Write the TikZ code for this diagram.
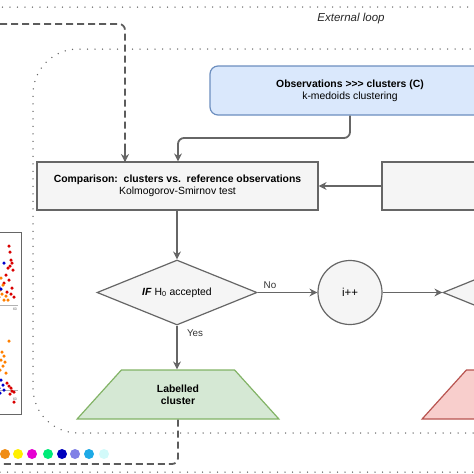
\documentclass[tikz,border=0pt]{standalone}
\usepackage{fontspec}
\setmainfont{Liberation Sans}
\usetikzlibrary{shapes.geometric,arrows.meta}
\definecolor{lg}{HTML}{F5F5F5}
\definecolor{dg}{HTML}{666666}
\definecolor{bfill}{HTML}{DAE8FC}
\definecolor{bline}{HTML}{6C8EBF}
\definecolor{gfill}{HTML}{D5E8D4}
\definecolor{gline}{HTML}{82B366}
\definecolor{rfill}{HTML}{F8CECC}
\definecolor{rline}{HTML}{B85450}
\tikzset{
  procbox/.style={draw=dg, fill=lg, line width=1.2pt, inner sep=0pt, align=center, font=\fontsize{10.4}{12}\selectfont},
  flow/.style={draw=dg, line width=1.8pt, -{Stealth[length=8pt,width=8pt]}, rounded corners=6pt},
  dashflow/.style={draw=dg!90!black, line width=1.8pt, dash pattern=on 7pt off 4pt, rounded corners=6pt},
  loopline/.style={draw=dg, line width=1.5pt, dash pattern=on 0pt off 7.5pt, line cap=round},
  lbl/.style={font=\fontsize{9.8}{11}\selectfont, text=black!80},
  cdot/.style={circle, inner sep=0pt, minimum size=10pt},
  sdot/.style={circle, inner sep=0pt, minimum size=3.5pt},
  trap/.style={procbox, trapezium, trapezium left angle=50, trapezium right angle=50,
    trapezium stretches=true, minimum width=202pt, minimum height=49pt},
}
\begin{document}
\begin{tikzpicture}[x=1pt,y=-1pt]
\useasboundingbox (0,0) rectangle (474,474);
\clip (0,0) rectangle (474,474);
% loops
\draw[loopline] (-60,7) rectangle (620,472);
\draw[loopline, rounded corners=45pt] (620,49) -- (33,49) -- (33,433) -- (620,433);
\node[font=\itshape\fontsize{11.5}{13}\selectfont, text=black!85] (ext) at (351,19) {External loop};
% scatter panel
\draw[draw=dg, line width=1pt, fill=white] (-20,232) rectangle (21,414);
\draw[black!30, line width=0.5pt] (-20,305) -- (18,305);
\draw[black!30, line width=0.5pt] (-20,390) -- (18,390);
\node[font=\fontsize{3.5}{4}\selectfont, text=black!60] (t1) at (15,309) {60};
\node[font=\fontsize{3.5}{4}\selectfont, text=black!60] (t2) at (15,399) {60};
\foreach \x/\y in {9/246,10/252,11/260,12/263,10/266,8/268,13/270,6/275,9/280,4/283,12/288,14/297,7/292,11/294}
  \node[sdot, fill=red!85!black] at (\x,\y) {};
\foreach \x/\y in {1/278,3/285,0/290,2/294,6/296,4/300,-1/297,8/300}
  \node[sdot, fill=orange] at (\x,\y) {};
\foreach \x/\y in {4/263,1/289,-1/287}
  \node[sdot, fill=blue!80!black] at (\x,\y) {};
\foreach \x/\y in {9/341,2/352,4/356,1/360,5/362,3/366,0/370,6/373}
  \node[sdot, fill=orange] at (\x,\y) {};
\foreach \x/\y in {1/380,3/385,-1/388,4/390,0/393}
  \node[sdot, fill=blue!80!black] at (\x,\y) {};
\foreach \x/\y in {7/383,9/386,11/388,12/391,14/392,10/394,14/402}
  \node[sdot, fill=red!85!black] at (\x,\y) {};
% color dots
\node[cdot, fill={rgb,255:red,240;green,140;blue,20}] (c1) at (5,454) {};
\node[cdot, fill={rgb,255:red,255;green,240;blue,0}] (c2) at (18,454) {};
\node[cdot, fill={rgb,255:red,230;green,0;blue,210}] (c3) at (32,454) {};
\node[cdot, fill={rgb,255:red,0;green,235;blue,120}] (c4) at (48,454) {};
\node[cdot, fill={rgb,255:red,0;green,0;blue,190}] (c5) at (62,454) {};
\node[cdot, fill={rgb,255:red,128;green,128;blue,230}] (c6) at (75,454) {};
\node[cdot, fill={rgb,255:red,30;green,170;blue,230}] (c7) at (89,454) {};
\node[cdot, fill={rgb,255:red,210;green,250;blue,250}] (c8) at (104,454) {};
% boxes
\node[procbox, draw=bline, fill=bfill, rounded corners=8pt, minimum width=280pt, minimum height=49pt] (obs) at (350,90.5)
  {\textbf{Observations {>}{>}{>} clusters (C)}\\k-medoids clustering};
\node[procbox, minimum width=281pt, minimum height=48pt] (cmp) at (177.5,186)
  {\textbf{Comparison:\ \ clusters vs.\ \ reference observations}\\Kolmogorov-Smirnov test};
\node[procbox, minimum width=240pt, minimum height=48pt] (rbox) at (502,186) {};
\node[procbox, diamond, aspect=2.46, minimum width=160pt, minimum height=65pt] (d1) at (177,292.5)
  {\textbf{\textit{IF}} H\textsubscript{0} accepted};
\node[procbox, circle, minimum size=64pt, font=\fontsize{11.5}{13}\selectfont] (inc) at (350,292.5) {i++};
\node[procbox, diamond, aspect=2.46, minimum width=160pt, minimum height=65pt] (d2) at (523,292.5) {\strut};
\node[trap, draw=gline, fill=gfill] (lab) at (178,394.5)
  {\textbf{Labelled}\\\textbf{cluster}};
\node[trap, draw=rline, fill=rfill] (fail) at (523,394.5)
  {\phantom{\textbf{Labelled}}\\\phantom{\textbf{cluster}}};
% connectors
\coordinate (bend1) at (178,138);
\draw[flow] (obs.south) |- (bend1) -- (bend1 |- cmp.north);
\draw[flow] (rbox.west) -- (cmp.east);
\draw[flow] (cmp.south -| d1.north) -- (d1.north);
\draw[flow] (d1.east) -- (inc.west);
\draw[flow] (inc.east) -- (d2.west);
\draw[flow] (d1.south) -- (lab.north -| d1.south);
\node[lbl] (no) at (270,285) {No};
\node[lbl] (yes) at (195,333) {Yes};
\coordinate (dstart) at (0,24);
\coordinate (dtarget) at (125,162);
\draw[dashflow] (dstart) -| (dtarget);
\draw[draw=dg, line width=1.8pt, -{Stealth[length=8pt,width=8pt]}] (125,150) -- (dtarget);
\coordinate (dend) at (0,464);
\draw[dashflow] (lab.south) |- (dend);
\end{tikzpicture}
\end{document}
